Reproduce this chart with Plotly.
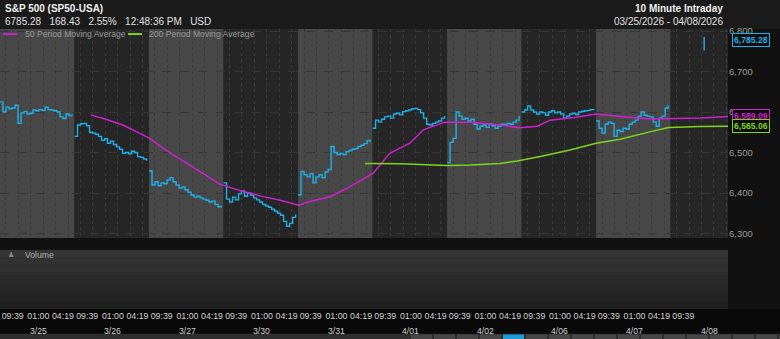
import plotly.graph_objects as go

# ---------------- data ----------------
DATES = ["3/25", "3/26", "3/27", "3/30", "3/31", "4/01", "4/02", "4/06", "4/07", "4/08"]
TIME_LABELS = ["09:39", "01:00", "04:19"]
TIME_FRAC = [0.17, 0.515, 0.845]          # position of each time label inside a session
SAMPLE_STEP = 0.0403                      # spacing of price samples inside a session

P_0325 = [6625, 6600, 6612, 6608, 6610, 6617, 6572, 6598, 6601, 6595, 6597, 6605, 6603,
          6606, 6604, 6612, 6606, 6605, 6603, 6600, 6588, 6584, 6595, 6591, 6594]
P_0326 = [6540, 6568, 6571, 6572, 6566, 6550, 6548, 6545, 6540, 6530, 6534, 6523, 6528,
          6520, 6514, 6508, 6498, 6500, 6497, 6503, 6500, 6490, 6488, 6484, 6480]
P_0327 = [6455, 6420, 6428, 6418, 6425, 6423, 6432, 6438, 6428, 6420, 6412, 6415, 6408,
          6402, 6395, 6390, 6392, 6388, 6385, 6382, 6378, 6380, 6372, 6366, 6370]
P_0330 = [6425, 6385, 6378, 6390, 6383, 6398, 6405, 6392, 6400, 6395, 6388, 6383, 6378,
          6372, 6368, 6365, 6360, 6355, 6350, 6345, 6330, 6318, 6325, 6340, 6347]
P_0331 = [6395, 6453, 6445, 6440, 6448, 6425, 6440, 6445, 6438, 6452, 6458, 6515, 6500,
          6495, 6498, 6495, 6502, 6505, 6508, 6510, 6515, 6518, 6522, 6530, 6526]
P_0401 = [6560, 6580, 6575, 6582, 6588, 6590, 6585, 6595, 6597, 6593, 6601, 6603, 6605,
          6608, 6609, 6606, 6598, 6585, 6570, 6568, 6572, 6575, 6578, 6585, 6590]
P_0402 = [6475, 6525, 6535, 6600, 6590, 6582, 6585, 6578, 6582, 6570, 6558, 6565, 6568,
          6562, 6570, 6566, 6560, 6565, 6570, 6568, 6572, 6570, 6575, 6580, 6590]
P_0406 = [6600, 6605, 6615, 6605, 6600, 6595, 6600, 6598, 6592, 6600, 6603, 6598, 6600,
          6595, 6585, 6590, 6595, 6597, 6594, 6600, 6602, 6603, 6604, 6606, 6608]
P_0407 = [6578, 6560, 6548, 6570, 6575, 6572, 6540, 6555, 6552, 6560, 6558, 6570, 6575,
          6580, 6590, 6600, 6592, 6590, 6588, 6575, 6565, 6585, 6590, 6610, 6617]
P_0408 = [6752, 6785]
P_0408_FRAC = [0.45, 0.45]

MA50_X = [1.22, 1.41, 1.65, 1.88, 2.01, 2.21, 2.48, 2.68, 2.95, 3.22, 3.49, 3.76, 4.01,
          4.16, 4.43, 4.70, 5.01, 5.10, 5.23, 5.50, 5.68, 5.97, 6.31, 6.71, 6.98, 7.21,
          7.38, 7.73, 8.00, 8.32, 8.72, 9.40, 9.77]
MA50_Y = [6593, 6583, 6568, 6548, 6535, 6508, 6476, 6453, 6422, 6406, 6393, 6382, 6370,
          6379, 6391, 6416, 6449, 6469, 6498, 6523, 6556, 6575, 6575, 6568, 6561, 6565,
          6580, 6587, 6595, 6589, 6583, 6585, 6589]
MA200_X = [4.90, 5.37, 6.00, 6.31, 6.71, 6.94, 7.25, 7.65, 8.00, 8.32, 8.72, 8.97, 9.40, 9.77]
MA200_Y = [6473, 6472, 6468, 6469, 6473, 6479, 6490, 6506, 6523, 6533, 6551, 6562, 6564, 6565]

LAST_PRICE = 6785.28
MA50_LAST = 6589.09
MA200_LAST = 6565.06
Y_TICKS = [6300, 6400, 6500, 6600, 6700, 6800]
X_MAX = 9.77
Y_RANGE = [6289, 6805]

TITLE = "S&P 500 (SP50-USA)"
QUOTE = "6785.28&nbsp;&nbsp; 168.43&nbsp;&nbsp; 2.55%&nbsp;&nbsp; 12:48:36 PM&nbsp;&nbsp; USD"
RIGHT_TITLE = "10 Minute Intraday"
RIGHT_SUB = "03/25/2026 - 04/08/2026"
LEGEND_NAMES = ["50 Period Moving Average", "200 Period Moving Average"]

# ---------------- colors ----------------
C_PRICE = "#1eb1ec"
C_MA50 = "#d020d0"
C_MA200 = "#80d41e"
BAND_LIGHT = "#484848"
BAND_DARK = "#262626"
FONT = "Liberation Sans, Arial, sans-serif"

# ---------------- build series ----------------
day_prices = [P_0325, P_0326, P_0327, P_0330, P_0331, P_0401, P_0402, P_0406, P_0407]
xp, yp = [], []
for d, vals in enumerate(day_prices):
    for i, v in enumerate(vals):
        xp.append(d + i * SAMPLE_STEP)
        yp.append(v)
    xp.append(None)
    yp.append(None)
for f, v in zip(P_0408_FRAC, P_0408):
    xp.append(len(day_prices) + f)
    yp.append(v)

fig = go.Figure()
fig.add_trace(go.Scatter(x=xp, y=yp, mode="lines", showlegend=False, connectgaps=False,
                         line=dict(color=C_PRICE, width=1.4, shape="hv"), hoverinfo="skip"))
fig.add_trace(go.Scatter(x=MA50_X, y=MA50_Y, mode="lines", name=LEGEND_NAMES[0], showlegend=False,
                         line=dict(color=C_MA50, width=1.5)))
fig.add_trace(go.Scatter(x=MA200_X, y=MA200_Y, mode="lines", name=LEGEND_NAMES[1], showlegend=False,
                         line=dict(color=C_MA200, width=1.5)))
fig.add_trace(go.Scatter(x=[None], y=[None], xaxis="x2", yaxis="y2", showlegend=False))

# ticks
tickvals, ticktext = [], []
for d in range(len(DATES)):
    for f, t in zip(TIME_FRAC, TIME_LABELS):
        if d == len(DATES) - 1 and t != "09:39":
            continue
        tickvals.append(d + f)
        ticktext.append(t)

shapes = []
# day bands
for d in range(len(DATES)):
    shapes.append(dict(type="rect", xref="x", yref="y domain", x0=d, x1=min(d + 1, X_MAX),
                       y0=0, y1=1, fillcolor=BAND_LIGHT if d % 2 == 0 else BAND_DARK,
                       line=dict(width=0), layer="below"))
# volume panel gradient
vol_cols = ["#353535", "#323232", "#2f2f2f", "#2c2c2c", "#292929", "#262626", "#232323", "#212121"]
n = len(vol_cols)
for i, c in enumerate(vol_cols):
    shapes.append(dict(type="rect", xref="x2 domain", yref="y2 domain", x0=0, x1=1,
                       y0=1 - (i + 1) / n, y1=1 - i / n, fillcolor=c, line=dict(width=0), layer="below"))
# header, label strip, bottom bar
shapes.append(dict(type="rect", xref="paper", yref="paper", x0=-0.01, x1=1.08, y0=1.0, y1=1.11,
                   fillcolor="#1b1b1b", line=dict(width=0), layer="below"))
shapes.append(dict(type="rect", xref="paper", yref="paper", x0=-0.01, x1=1.08, y0=-0.088, y1=0,
                   fillcolor="#090909", line=dict(width=0), layer="below"))
shapes.append(dict(type="rect", xref="paper", yref="paper", x0=-0.01, x1=1.08, y0=-0.12, y1=-0.088,
                   fillcolor="#2e2e2e", line=dict(width=0), layer="below"))
for k in range(-1, 16):
    x0 = (434 + k * 23) / 728
    shapes.append(dict(type="rect", xref="paper", yref="paper", x0=x0, x1=x0 + 21 / 728,
                       y0=-0.12, y1=-0.091,
                       fillcolor="#1e9bd7" if k == 3 else "#464646", line=dict(width=0), layer="below"))
# legend line samples
legend_y = 0.982
for (x0, x1), col in zip([(3, 17), (128, 142)], [C_MA50, C_MA200]):
    shapes.append(dict(type="line", xref="paper", yref="paper", x0=x0 / 728, x1=x1 / 728,
                       y0=legend_y, y1=legend_y, line=dict(color=col, width=2)))

annotations = []
# legend texts
for xs, name in zip([23, 147], LEGEND_NAMES):
    annotations.append(dict(x=xs / 728, y=legend_y, xref="paper", yref="paper", text=name,
                            showarrow=False, xanchor="left", yanchor="middle",
                            font=dict(size=8.6, color="#9a9a9a", family=FONT)))
# date row
for d, lab in enumerate(DATES):
    annotations.append(dict(x=d + TIME_FRAC[1], y=-0.08, xref="x2", yref="paper", text=lab,
                            showarrow=False, font=dict(size=8.6, color="#d0d0d0", family=FONT),
                            xanchor="center", yanchor="middle"))
# header
annotations += [
    dict(x=3 / 728, y=1.073, xref="paper", yref="paper", text="<b>" + TITLE + "</b>", showarrow=False,
         xanchor="left", yanchor="middle", font=dict(size=10, color="#f0f0f0", family=FONT)),
    dict(x=3 / 728, y=1.027, xref="paper", yref="paper", text=QUOTE, showarrow=False,
         xanchor="left", yanchor="middle", font=dict(size=10, color="#e0e0e0", family=FONT)),
    dict(x=725 / 728, y=1.073, xref="paper", yref="paper", text="<b>" + RIGHT_TITLE + "</b>", showarrow=False,
         xanchor="right", yanchor="middle", font=dict(size=10, color="#f0f0f0", family=FONT)),
    dict(x=725 / 728, y=1.027, xref="paper", yref="paper", text=RIGHT_SUB, showarrow=False,
         xanchor="right", yanchor="middle", font=dict(size=10, color="#e0e0e0", family=FONT)),
    dict(x=23 / 728, y=0.193, xref="paper", yref="paper", text="Volume", showarrow=False,
         xanchor="left", yanchor="middle", font=dict(size=8.6, color="#b0b0b0", family=FONT)),
    dict(x=11 / 728, y=0.193, xref="paper", yref="paper", text="♟", showarrow=False,
         xanchor="center", yanchor="middle", font=dict(size=7, color="#8a8a8a", family="DejaVu Sans")),
]
# right side value boxes
for val, col, ysh in [(LAST_PRICE, C_PRICE, -3), (MA50_LAST, C_MA50, 0), (MA200_LAST, C_MA200, 0)]:
    annotations.append(dict(x=1, y=val, xref="paper", yref="y", text=f"<b>{val:,.2f}</b>", showarrow=False,
                            xanchor="left", yanchor="middle", xshift=4, yshift=ysh,
                            font=dict(size=8.6, color=col, family=FONT),
                            bgcolor="#0e0e0e", bordercolor=col, borderwidth=1, borderpad=1))

fig.update_layout(
    width=780, height=339,
    margin=dict(l=0, r=52, t=29, b=30, pad=0),
    paper_bgcolor="#111111", plot_bgcolor="#262626",
    font=dict(family=FONT, color="#cccccc"),
    shapes=shapes, annotations=annotations,
    showlegend=False,
    xaxis=dict(domain=[0, 1], range=[0, X_MAX], anchor="y", showticklabels=False, ticks="",
               showgrid=True, gridcolor="#3a3a3a", griddash="dot", gridwidth=1,
               tick0=0.08, dtick=1 / 6, zeroline=False, showline=False, automargin=False),
    yaxis=dict(domain=[0.2536, 1], range=Y_RANGE, anchor="x", side="right", tickvals=Y_TICKS,
               tickformat=",", showgrid=True, gridcolor="#363636", griddash="dash", gridwidth=1,
               ticks="", tickfont=dict(size=9.5, color="#9c9c9c"), zeroline=False,
               showline=False, automargin=False),
    xaxis2=dict(domain=[0, 1], range=[0, X_MAX], anchor="y2", matches="x", tickvals=tickvals,
                ticktext=ticktext, tickangle=0, ticks="", showgrid=False, zeroline=False,
                showline=False, tickfont=dict(size=8.8, color="#d0d0d0"), automargin=False),
    yaxis2=dict(domain=[0, 0.2107], range=[0, 1], anchor="x2", showticklabels=False,
                showgrid=False, zeroline=False, automargin=False),
)

fig.write_html("out.html")
